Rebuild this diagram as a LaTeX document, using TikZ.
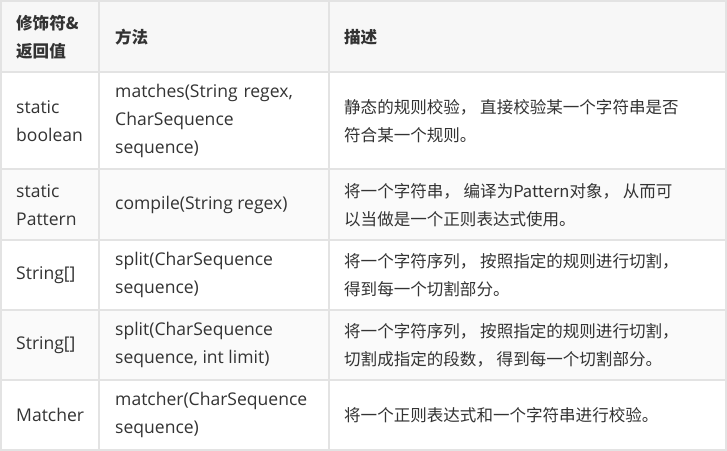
\documentclass[tikz,border=0pt]{standalone}
\usepackage{fontspec}
\setmainfont{Open Sans}
\newfontfamily\cjk{Noto Sans CJK SC}
\definecolor{gridc}{HTML}{E3E3E3}
\definecolor{headc}{HTML}{F7F7F7}
\definecolor{rowc}{HTML}{FAFAFA}
\definecolor{txt}{HTML}{333333}
\begin{document}
\begin{tikzpicture}[x=1bp,y=-1bp,
  cell/.style={anchor=west,align=left,inner sep=0pt,text=txt,font=\fontsize{17.6}{28}\selectfont},
  dcell/.style={cell,font=\cjk\fontsize{16.6}{28}\selectfont},
  hcell/.style={cell,font=\cjk\bfseries\fontsize{16.6}{28}\selectfont}]
\useasboundingbox (0,0) rectangle (727,451);
\fill[white] (0,0) rectangle (727,451);
\fill[headc] (1,1) rectangle (726,72);
\fill[rowc] (1,169) rectangle (726,240);
\fill[rowc] (1,310) rectangle (726,380);
\draw[gridc,line width=1.2bp] (1,1) rectangle (726,450);
\foreach \y in {72,169,240,310,380} \draw[gridc,line width=1.2bp] (1,\y) -- (726,\y);
\foreach \x in {99,329} \draw[gridc,line width=1.2bp] (\x,1) -- (\x,450);
% header
\node[hcell,text width=80bp] (h1) at (16,37) {修饰符\&\\返回值};
\node[hcell] (h2) at (115,37) {方法};
\node[hcell] (h3) at (344,37) {描述};
% row 1
\node[cell,text width=80bp] (a1) at (16,121) {static\\boolean};
\node[cell,text width=210bp] (b1) at (115,121) {matches(String regex,\\CharSequence\\sequence)};
\node[dcell] (c1) at (344,121) {静态的规则校验， 直接校验某一个字符串是否\\符合某一个规则。};
% row 2
\node[cell] (a2) at (16,205) {static\\Pattern};
\node[cell] (b2) at (115,205) {compile(String regex)};
\node[dcell] (c2) at (344,205) {将一个字符串， 编译为Pattern对象， 从而可\\以当做是一个正则表达式使用。};
% row 3
\node[cell] (a3) at (16,275) {String[]};
\node[cell] (b3) at (115,275) {split(CharSequence\\sequence)};
\node[dcell] (c3) at (344,275) {将一个字符序列， 按照指定的规则进行切割，\\得到每一个切割部分。};
% row 4
\node[cell] (a4) at (16,345) {String[]};
\node[cell] (b4) at (115,345) {split(CharSequence\\sequence, int limit)};
\node[dcell] (c4) at (344,345) {将一个字符序列， 按照指定的规则进行切割，\\切割成指定的段数， 得到每一个切割部分。};
% row 5
\node[cell] (a5) at (16,415) {Matcher};
\node[cell] (b5) at (115,415) {matcher(CharSequence\\sequence)};
\node[dcell] (c5) at (344,415) {将一个正则表达式和一个字符串进行校验。};
\end{tikzpicture}
\end{document}
